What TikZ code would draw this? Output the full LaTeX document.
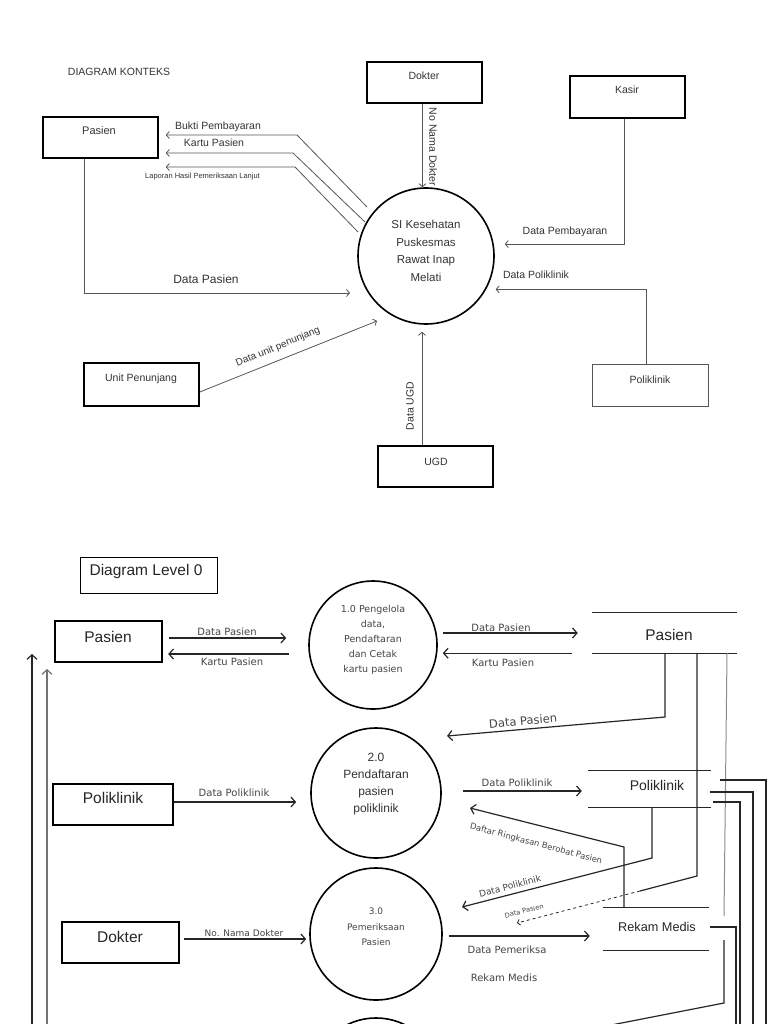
\documentclass[tikz,border=0pt]{standalone}
\usepackage{fontspec}
\setmainfont{Liberation Sans}
\newfontfamily\dvs{DejaVu Sans}
\usetikzlibrary{arrows.meta}
\definecolor{ln}{HTML}{555555}
\definecolor{tx}{HTML}{333333}
\definecolor{lb}{HTML}{444444}
\newcommand{\fsz}[2]{\fontsize{#1}{#2}\selectfont}
\begin{document}
\begin{tikzpicture}[x=1pt,y=-1pt,
  ctxbox/.style={draw=black,line width=1.6pt,minimum width=115pt,minimum height=41pt,inner sep=0pt},
  ctxtxt/.style={text=tx,font=\fsz{10.5}{12},inner sep=0pt},
  fa/.style={draw=ln,line width=0.8pt,-{Straight Barb[length=3pt,width=7pt]}},
  proc/.style={circle,draw=black,line width=1.6pt,inner sep=0pt},
  entb/.style={draw=black,line width=2.4pt,inner sep=0pt},
  enttxt/.style={text=black!85,font=\fsz{15.5}{18},inner sep=0pt},
  lv/.style={text=lb,font=\dvs\fsz{10}{12},inner sep=0pt},
  fb/.style={draw=black!85,line width=1.2pt,-{Straight Barb[length=4.5pt,width=10pt]}},
  pl/.style={draw=black!85,line width=1.2pt},
  store/.style={inner sep=0pt},
  ]
\useasboundingbox (0,0) rectangle (768,1024);
\clip (0,0) rectangle (768,1024);

% ================= Context diagram =================
\node[ctxtxt] (title1) at (119,72) {DIAGRAM KONTEKS};

\node[ctxbox] (pasienA) at (100.5,137.5) {};
\node[ctxtxt,font=\fsz{11}{12}] (pasienAt) at (99,131) {Pasien};
\node[ctxbox] (dokterA) at (424.5,82.5) {};
\node[ctxtxt] (dokterAt) at (424,76) {Dokter};
\node[ctxbox,minimum height=42pt] (kasirA) at (627.5,97) {};
\node[ctxtxt] (kasirAt) at (627,90) {Kasir};
\node[draw=ln,line width=1pt,minimum width=116pt,minimum height=42pt,inner sep=0pt] (polA) at (650,385) {};
\node[ctxtxt] (polAt) at (650,380) {Poliklinik};
\node[ctxbox] (ugdA) at (435.5,466.5) {};
\node[ctxtxt] (ugdAt) at (436,462) {UGD};
\node[ctxbox,minimum height=43pt] (unitA) at (141.5,384.5) {};
\node[ctxtxt] (unitAt) at (141,379) {Unit Penunjang};

\node[proc,minimum size=136pt] (si) at (426,256) {};
\node[ctxtxt,font=\fsz{11.5}{17.5},align=center] (sit) at (426,251) {SI Kesehatan\\Puskesmas\\Rawat Inap\\Melati};

% Dokter
\draw[fa] ([xshift=-2pt]dokterA.south) -- ([xshift=-2pt]dokterA.south |- si.north);
\node[ctxtxt,rotate=-90] (lDok) at (433,147) {No Nama Dokter};
% Kasir
\draw[fa,shorten >=11pt] ([xshift=-3.5pt]kasirA.south) |- (si.10);
\node[ctxtxt] (lKas) at (565,232) {Data Pembayaran};
% Poliklinik
\draw[fa,shorten >=9.5pt] ([xshift=-4pt]polA.north) |- (si.-29);
\node[ctxtxt] (lPol) at (536,275) {Data Poliklinik};
% UGD
\draw[fa,shorten >=7pt] ([xshift=-13.5pt]ugdA.north) -- ([xshift=-13.5pt]ugdA.north |- si.south);
\node[ctxtxt,rotate=90] (lUgd) at (410,406) {Data UGD};
% Unit penunjang
\coordinate (unitIn) at (377,321);
\draw[fa] ([yshift=-7.5pt]unitA.east) -- (unitIn);
\node[ctxtxt,font=\fsz{10}{12},rotate=22] (lUnit) at (278,347) {Data unit penunjang};
% Data Pasien
\coordinate (dpIn) at (350,293);
\draw[fa] ([xshift=-16.5pt]pasienA.south) |- (dpIn);
\node[ctxtxt,font=\fsz{12}{14}] (lDp) at (206,279) {Data Pasien};
% returns to Pasien
\coordinate (bukS) at (367,207); \coordinate (bukB) at (297,135);
\coordinate (karS) at (365,222); \coordinate (karB) at (293,153);
\coordinate (lapS) at (358,232); \coordinate (lapB) at (295,167);
\draw[fa,shorten >=7pt] (bukS) -- (bukB) -- (bukB -| pasienA.east);
\draw[fa,shorten >=7pt] (karS) -- (karB) -- (karB -| pasienA.east);
\draw[fa,shorten >=7pt] (lapS) -- (lapB) -- (lapB -| pasienA.east);
\node[ctxtxt] (lBuk) at (218,127) {Bukti Pembayaran};
\node[ctxtxt] (lKar) at (214,143) {Kartu Pasien};
\node[ctxtxt,font=\fsz{7.5}{9}] (lLap) at (202.5,177) {Laporan Hasil Pemeriksaan Lanjut};

% ================= Level 0 =================
\node[draw=black,line width=1pt,minimum width=137pt,minimum height=36pt,inner sep=0pt] (lvlbox) at (148.5,575) {};
\node[enttxt] (lvlt) at (146,571) {Diagram Level 0};

\node[entb,minimum width=107pt,minimum height=41pt] (pasienB) at (108.5,641.5) {};
\node[enttxt] (pasienBt) at (108,637) {Pasien};
\node[entb,minimum width=120pt,minimum height=41pt] (polB) at (113,804.5) {};
\node[enttxt] (polBt) at (113,798) {Poliklinik};
\node[entb,minimum width=117pt,minimum height=41pt] (dokB) at (120.5,942.5) {};
\node[enttxt] (dokBt) at (120,937) {Dokter};

\node[proc,minimum size=128pt] (p1) at (373,645) {};
\node[lv,font=\dvs\fsz{9.5}{15},align=center] (p1t) at (373,640) {1.0 Pengelola\\data,\\Pendaftaran\\dan Cetak\\kartu pasien};
\node[proc,minimum size=130pt] (p2) at (376,793) {};
\node[text=tx,font=\fsz{12}{17.3},align=center,inner sep=0pt] (p2t) at (376,784) {2.0\\Pendaftaran\\pasien\\poliklinik};
\node[proc,minimum size=132pt] (p3) at (376,934) {};
\node[lv,font=\dvs\fsz{9}{15.5},align=center] (p3t) at (376,927) {3.0\\Pemeriksaan\\Pasien};
\node[proc,minimum size=130pt] (p4) at (376,1083) {};

% data stores
\node[store,minimum width=145pt,minimum height=40pt] (sPas) at (664.5,633) {};
\draw[pl] (sPas.north west) -- (sPas.north east);
\draw[pl] (sPas.south west) -- (sPas.south east);
\node[enttxt] (sPast) at (669,635) {Pasien};
\node[store,minimum width=123pt,minimum height=36pt] (sPol) at (649.5,789) {};
\draw[pl] (sPol.north west) -- (sPol.north east);
\draw[pl] (sPol.south west) -- (sPol.south east);
\node[enttxt,font=\fsz{14}{16}] (sPolt) at (657,785) {Poliklinik};
\node[store,minimum width=106pt,minimum height=42pt] (sRM) at (656,929) {};
\draw[pl] (sRM.north west) -- (sRM.north east);
\draw[pl] (sRM.south west) -- (sRM.south east);
\node[enttxt,font=\fsz{12.7}{15}] (sRMt) at (657,927) {Rekam Medis};

% Pasien <-> 1.0
\draw[fb,shorten <=6pt,shorten >=22pt] ([yshift=3.5pt]pasienB.east) -- ([yshift=3.5pt]pasienB.east -| p1.west);
\node[lv] (l1) at (227,632) {Data Pasien};
\draw[fb,shorten <=19pt,shorten >=5pt] ([yshift=-9pt]p1.west) -- ([yshift=-9pt]p1.west -| pasienB.east);
\node[lv] (l2) at (232,662) {Kartu Pasien};
% 1.0 <-> store Pasien
\draw[fb,shorten <=5pt,shorten >=14pt] ([yshift=12pt]p1.east) -- ([yshift=12pt]p1.east -| sPas.west);
\node[lv] (l3) at (501,628) {Data Pasien};
\draw[fb,shorten <=20pt,shorten >=5pt] (sPas.south west) -- (sPas.south west -| p1.east);
\node[lv] (l4) at (503,663) {Kartu Pasien};
% store Pasien -> 2.0
\coordinate (dp2b) at (665,717); \coordinate (dp2e) at (447,736);
\draw[fb] (sPas.south -| dp2b) -- (dp2b) -- (dp2e);
\node[lv,font=\dvs\fsz{11.5}{13},rotate=5] (l5) at (523,721) {Data Pasien};
% Poliklinik -> 2.0
\draw[fb,shorten >=14pt] ([yshift=2.5pt]polB.east) -- ([yshift=2.5pt]polB.east -| p2.west);
\node[lv] (l6) at (234,793) {Data Poliklinik};
% 2.0 -> store Poliklinik
\draw[fb,shorten <=21pt,shorten >=6pt] ([yshift=2pt]p2.east) -- ([yshift=2pt]p2.east -| sPol.west);
\node[lv] (l7) at (517,783) {Data Poliklinik};
% Rekam Medis -> 2.0
\coordinate (drb) at (624,847); \coordinate (dre) at (470,808);
\draw[fb] (sRM.north -| drb) -- (drb) -- (dre);
\node[lv,font=\dvs\fsz{8.3}{10},rotate=-15] (l8) at (536,844) {Daftar Ringkasan Berobat Pasien};
% store Poliklinik -> 3.0
\coordinate (dpol3b) at (652,858); \coordinate (dpol3e) at (462,907);
\draw[fb] (sPol.south -| dpol3b) -- (dpol3b) -- (dpol3e);
\node[lv,font=\dvs\fsz{9}{11},rotate=14.5] (l9) at (510,886) {Data Poliklinik};
% store Pasien -> 3.0 (dashed end)
\coordinate (dpb) at (697,876); \coordinate (dpm) at (640,891); \coordinate (dpe) at (517,923);
\draw[pl] (sPas.south -| dpb) -- (dpb) -- (dpm);
\draw[draw=black!85,line width=0.8pt,dashed,-{Straight Barb[length=2.5pt,width=6pt]}] (dpm) -- (dpe);
\node[lv,font=\dvs\fsz{6.7}{8},rotate=14] (l10) at (524,911) {Data Pasien};
% Dokter -> 3.0
\draw[fb,shorten <=4pt,shorten >=3pt] ([yshift=3.5pt]dokB.east) -- ([yshift=3.5pt]dokB.east -| p3.west);
\node[lv,font=\dvs\fsz{9}{11}] (l11) at (244,933) {No. Nama Dokter};
% 3.0 -> Rekam Medis
\draw[fb,shorten <=6pt,shorten >=13pt] ([yshift=-2pt]p3.east) -- ([yshift=-2pt]p3.east -| sRM.west);
\node[lv] (l12) at (507,950) {Data Pemeriksa};
\node[lv] (l13) at (504,978) {Rekam Medis};

% grey line from store Pasien
\coordinate (g0) at (727,653); \coordinate (g1) at (724,916);
\draw[draw=black!45,line width=1pt] (g0) -- (g1);
% line from Rekam Medis downwards
\coordinate (rmv0) at (724,940); \coordinate (rmv1) at (724,1003); \coordinate (rmv2) at (560,1035);
\draw[pl] (rmv0) -- (rmv1) -- (rmv2);
% right-hand bundle
\coordinate (r1a) at (720,780); \coordinate (r1b) at (766,780); \coordinate (r1c) at (766,1030);
\coordinate (r2a) at (710,792); \coordinate (r2b) at (753,792); \coordinate (r2c) at (753,1030);
\coordinate (r3a) at (713,802); \coordinate (r3b) at (740,802); \coordinate (r3c) at (740,1030);
\coordinate (r4a) at (710,927); \coordinate (r4b) at (736,927); \coordinate (r4c) at (736,1030);
\draw[pl] (r1a) -- (r1b) -- (r1c);
\draw[pl] (r2a) -- (r2b) -- (r2c);
\draw[pl] (r3a) -- (r3b) -- (r3c);
\draw[pl] (r4a) -- (r4b) -- (r4c);
% left-hand long arrows
\coordinate (L1a) at (32,1030); \coordinate (L1b) at (32,654);
\coordinate (L2a) at (47,1030); \coordinate (L2b) at (47,669);
\draw[fb] (L1a) -- (L1b);
\draw[fb,draw=black!55] (L2a) -- (L2b);
\end{tikzpicture}
\end{document}
